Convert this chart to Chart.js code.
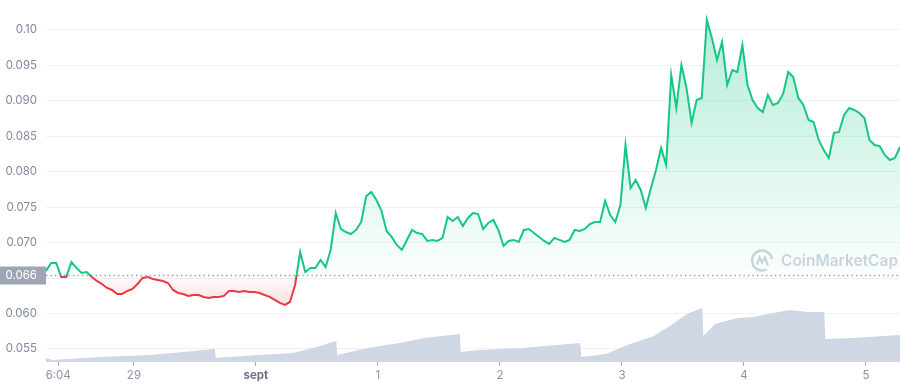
<!DOCTYPE html>
<html>
<head>
<meta charset="utf-8">
<script src="https://cdn.jsdelivr.net/npm/chart.js@4.4.1/dist/chart.umd.min.js"></script>
<style>
  html, body { margin: 0; padding: 0; background: #fff; }
  #wrap { width: 900px; height: 387px; }
</style>
</head>
<body>
<div id="wrap"><canvas id="priceChart" width="900" height="387"></canvas></div>
<script>
// price, one value per hour over the 7 days (169 points)
const priceValues = [
  0.06600, 0.06713, 0.06713, 0.06516, 0.06516, 0.06727, 0.06643, 0.06572, 0.06586, 0.06516, 0.06459, 0.06417,
  0.06360, 0.06332, 0.06276, 0.06276, 0.06318, 0.06346, 0.06417, 0.06502, 0.06516, 0.06487, 0.06473, 0.06459,
  0.06431, 0.06332, 0.06290, 0.06276, 0.06248, 0.06262, 0.06262, 0.06234, 0.06219, 0.06234, 0.06234, 0.06248,
  0.06318, 0.06318, 0.06304, 0.06318, 0.06304, 0.06304, 0.06290, 0.06262, 0.06234, 0.06191, 0.06149, 0.06121,
  0.06163, 0.06403, 0.06868, 0.06586, 0.06643, 0.06643, 0.06755, 0.06657, 0.06897, 0.07418, 0.07193, 0.07150,
  0.07122, 0.07179, 0.07291, 0.07658, 0.07715, 0.07602, 0.07447, 0.07165, 0.07080, 0.06967, 0.06897, 0.07038,
  0.07179, 0.07136, 0.07122, 0.07024, 0.07038, 0.07024, 0.07066, 0.07362, 0.07306, 0.07362, 0.07235, 0.07348,
  0.07418, 0.07404, 0.07193, 0.07277, 0.07320, 0.07179, 0.06953, 0.07024, 0.07038, 0.07009, 0.07179, 0.07193,
  0.07136, 0.07080, 0.07024, 0.06981, 0.07066, 0.07038, 0.07009, 0.07038, 0.07179, 0.07165, 0.07193, 0.07263,
  0.07291, 0.07291, 0.07588, 0.07390, 0.07291, 0.07531, 0.08378, 0.07771, 0.07884, 0.07743, 0.07489, 0.07771,
  0.08025, 0.08335, 0.08096, 0.09365, 0.08900, 0.09506, 0.09182, 0.08688, 0.09012, 0.09041, 0.10141, 0.09887,
  0.09577, 0.09831, 0.09224, 0.09436, 0.09407, 0.09788, 0.09224, 0.09012, 0.08900, 0.08843, 0.09083, 0.08942,
  0.08970, 0.09097, 0.09407, 0.09337, 0.09041, 0.08942, 0.08730, 0.08702, 0.08448, 0.08307, 0.08194, 0.08547,
  0.08561, 0.08801, 0.08900, 0.08871, 0.08829, 0.08758, 0.08448, 0.08378, 0.08363, 0.08237, 0.08166, 0.08194,
  0.08349
];

// rolling 24h volume (arbitrary units), sampled where the shape changes
const volumeHours = [0, 1.4, 10.6, 20.5, 27.0, 33.2, 33.4, 41.5, 48.6, 53.3, 57.1, 57.3, 63.2, 69.6, 74.4, 81.4, 81.6,
  85.2, 93.8, 105.1, 105.3, 110.1, 114.4, 119.6, 123.0, 126.1, 129.1, 129.3, 131.6, 136.0, 139.1, 146.2, 149.9,
  153.1, 153.3, 158.6, 168];
const volumeValues = [4, 2, 5, 7, 10, 13, 4, 7, 9, 15, 21, 7, 14, 19, 24, 28, 10,
  12, 14, 19, 5, 8, 17, 26, 37, 48, 54, 26, 38, 44, 45, 52, 50,
  50, 23, 24, 27];

const tickHours = [2.4, 17.3, 41.3, 65.3, 89.3, 113.3, 137.3, 161.3];
const tickLabels = ['6:04', '29', 'sept', '1', '2', '3', '4', '5'];
const yTicks = [0.055, 0.060, 0.065, 0.070, 0.075, 0.080, 0.085, 0.090, 0.095, 0.10];

const baseline = 0.0655;
const baselineLabel = '0.066';

const green = '#16c784';
const red = '#ea3943';

// line: green above the opening price, red below
function lineGradient(c) {
  const chart = c.chart;
  const area = chart.chartArea;
  if (!area) return green;
  const y = chart.scales.y.getPixelForValue(baseline);
  const stop = Math.min(Math.max((y - area.top) / (area.bottom - area.top), 0), 1);
  const g = chart.ctx.createLinearGradient(0, area.top, 0, area.bottom);
  g.addColorStop(0, green);
  g.addColorStop(stop, green);
  g.addColorStop(stop, red);
  g.addColorStop(1, red);
  return g;
}

function fillGradient(c) {
  const chart = c.chart;
  const area = chart.chartArea;
  if (!area) return 'rgba(22,199,132,0.1)';
  const y = chart.scales.y.getPixelForValue(baseline);
  const low = chart.scales.y.getPixelForValue(0.0610);
  const h = area.bottom - area.top;
  const stop = Math.min(Math.max((y - area.top) / h, 0), 1);
  const lowStop = Math.min(Math.max((low - area.top) / h, stop), 1);
  const g = chart.ctx.createLinearGradient(0, area.top, 0, area.bottom);
  g.addColorStop(0, 'rgba(22,199,132,0.34)');
  g.addColorStop(stop, 'rgba(22,199,132,0.02)');
  g.addColorStop(stop, 'rgba(234,57,67,0.02)');
  g.addColorStop(lowStop, 'rgba(234,57,67,0.16)');
  g.addColorStop(1, 'rgba(234,57,67,0.16)');
  return g;
}

const baselinePlugin = {
  id: 'baseline',
  beforeDatasetsDraw(chart) {
    // watermark
    const { ctx, chartArea } = chart;
    const y = chart.scales.y.getPixelForValue(baseline) - 14;
    const x = chartArea.right - 138;
    ctx.save();
    ctx.strokeStyle = 'rgba(190,197,212,0.75)';
    ctx.fillStyle = 'rgba(190,197,212,0.75)';
    ctx.lineWidth = 2.6;
    ctx.beginPath();
    ctx.arc(x, y, 10, Math.PI * 0.35, Math.PI * 1.95);
    ctx.stroke();
    ctx.lineWidth = 2.2;
    ctx.beginPath();
    ctx.moveTo(x - 5, y + 4);
    ctx.lineTo(x - 2.5, y - 3);
    ctx.lineTo(x, y + 2);
    ctx.lineTo(x + 3, y - 3);
    ctx.lineTo(x + 6, y + 5);
    ctx.stroke();
    ctx.font = '600 15.5px Inter, sans-serif';
    ctx.textBaseline = 'middle';
    ctx.textAlign = 'left';
    ctx.fillText('CoinMarketCap', x + 19, y + 1);
    ctx.restore();
  },
  afterDatasetsDraw(chart) {
    const { ctx, chartArea } = chart;
    const y = Math.round(chart.scales.y.getPixelForValue(baseline)) + 0.5;
    ctx.save();
    ctx.strokeStyle = '#8f97a8';
    ctx.lineWidth = 1.3;
    ctx.setLineDash([1.3, 3.2]);
    ctx.beginPath();
    ctx.moveTo(chartArea.left, y);
    ctx.lineTo(chartArea.right, y);
    ctx.stroke();
    ctx.setLineDash([]);
    ctx.fillStyle = '#9ea5b4';
    ctx.fillRect(0, y - 9, chartArea.left, 18);
    ctx.fillStyle = '#ffffff';
    ctx.font = '11.5px Inter, sans-serif';
    ctx.textAlign = 'right';
    ctx.textBaseline = 'middle';
    ctx.fillText(baselineLabel, chartArea.left - 9, y);
    ctx.restore();
  }
};

Chart.defaults.font.family = 'Inter, sans-serif';
Chart.defaults.font.size = 11.5;
Chart.defaults.color = '#808a9d';

const ctx = document.getElementById('priceChart').getContext('2d');

new Chart(ctx, {
  type: 'line',
  data: {
    datasets: [
      {
        label: 'Price',
        data: priceValues.map((v, i) => ({ x: i, y: v })),
        yAxisID: 'y',
        borderColor: lineGradient,
        backgroundColor: fillGradient,
        borderWidth: 2,
        pointRadius: 0,
        tension: 0,
        fill: { target: { value: baseline } }
      },
      {
        label: 'Volume',
        data: volumeHours.map((h, i) => ({ x: h, y: volumeValues[i] })),
        yAxisID: 'y1',
        borderWidth: 0,
        borderColor: 'rgba(0,0,0,0)',
        backgroundColor: '#cfd6e4',
        pointRadius: 0,
        tension: 0,
        fill: 'origin'
      }
    ]
  },
  options: {
    responsive: false,
    animation: false,
    devicePixelRatio: 1,
    layout: { padding: 0 },
    plugins: {
      legend: { display: false },
      tooltip: { enabled: false }
    },
    scales: {
      x: {
        type: 'linear',
        min: 0,
        max: 168,
        afterFit: s => { s.height = 25; s.paddingLeft = 0; s.paddingRight = 0; },
        afterBuildTicks: s => { s.ticks = tickHours.map(v => ({ value: v })); },
        border: { display: false },
        grid: {
          drawOnChartArea: false,
          drawTicks: true,
          tickLength: 4,
          color: '#a9b0bf'
        },
        ticks: {
          padding: 3,
          maxRotation: 0,
          autoSkip: false,
          callback: (v, i) => tickLabels[i],
          color: c => tickLabels[c.index] === 'sept' ? '#6b7487' : '#8a93a6',
          font: c => tickLabels[c.index] === 'sept' ? { weight: 'bold', size: 11.5 } : { size: 11.5 }
        }
      },
      y: {
        position: 'left',
        min: 0.05316,
        max: 0.10423,
        afterFit: s => { s.width = 46; s.paddingTop = 0; s.paddingBottom = 0; },
        afterBuildTicks: s => { s.ticks = yTicks.map(v => ({ value: v })); },
        border: { display: false },
        grid: { color: '#eff2f5', drawTicks: false },
        ticks: {
          padding: 9,
          callback: v => {
            if (Math.abs(v - 0.065) < 1e-9) return '';
            if (Math.abs(v - 0.1) < 1e-9) return '0.10';
            return v.toFixed(3);
          }
        }
      },
      y1: {
        display: false,
        min: 0,
        max: 362
      }
    }
  },
  plugins: [baselinePlugin]
});
</script>
</body>
</html>
